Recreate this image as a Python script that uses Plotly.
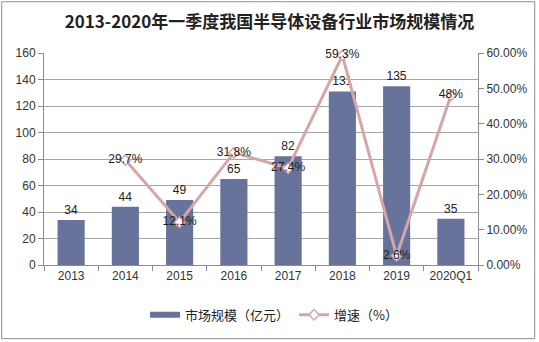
import plotly.graph_objects as go

categories = ["2013", "2014", "2015", "2016", "2017", "2018", "2019", "2020Q1"]
market_size = [34, 44, 49, 65, 82, 131, 135, 35]
growth = [None, 0.297, 0.121, 0.318, 0.274, 0.593, 0.026, 0.48]
growth_labels = ["", "29.7%", "12.1%", "31.8%", "27.4%", "59.3%", "2.6%", "48%"]

W, H = 539, 342
ml, mr, mt, mb = 44, 59, 53, 76
pw, ph = W - ml - mr, H - mt - mb

BAR_COLOR = "#67739A"
LINE_COLOR = "#D4A7A6"

fig = go.Figure()
fig.add_trace(go.Bar(
    x=categories, y=market_size, name="市场规模（亿元）",
    marker=dict(color=BAR_COLOR, line=dict(width=0)),
    width=0.5,
    text=[str(v) for v in market_size], textposition="outside",
    textfont=dict(family="Arial", size=12, color="#222222"),
    cliponaxis=False, showlegend=False,
))
# legend-only entry to show a wide bar swatch like the reference
fig.add_trace(go.Scatter(
    x=[None], y=[None], name="市场规模（亿元）", mode="lines",
    line=dict(color=BAR_COLOR, width=6), showlegend=True,
))
fig.add_trace(go.Scatter(
    x=categories, y=growth, name="增速（%）", yaxis="y2",
    mode="lines+markers+text",
    line=dict(color=LINE_COLOR, width=3),
    marker=dict(symbol="diamond", size=8, color="white", line=dict(color=LINE_COLOR, width=1.5)),
    text=growth_labels, textposition="middle center",
    textfont=dict(family="Arial", size=12, color="#222222"),
    cliponaxis=False,
))

frame_x0 = (1.5 - ml) / pw
frame_x1 = (W - 2 - ml) / pw
frame_y0 = -(H - 2 - (mt + ph)) / ph
frame_y1 = 1 + (mt - 1.5) / ph

fig.update_layout(
    width=W, height=H,
    margin=dict(l=ml, r=mr, t=mt, b=mb, pad=0),
    paper_bgcolor="white", plot_bgcolor="white",
    title=dict(text="<b>2013-2020年一季度我国半导体设备行业市场规模情况</b>",
               x=0.5, xanchor="center", y=1 - 22 / H, yanchor="middle",
               font=dict(family="Noto Sans CJK SC", size=17, color="#222222")),
    font=dict(family="Arial", size=12, color="#333333"),
    showlegend=True,
    legend=dict(orientation="h", x=0.53, xanchor="center", y=-0.235, yanchor="middle",
                font=dict(family="Noto Sans CJK SC", size=13, color="#222222"),
                tracegroupgap=0),
    xaxis=dict(
        showline=True, linecolor="#8C8C8C", linewidth=1,
        ticks="outside", ticklen=5, tickcolor="#8C8C8C", tickson="boundaries",
        tickfont=dict(family="Arial", size=12, color="#333333"),
        showgrid=False,
    ),
    yaxis=dict(
        range=[0, 160], dtick=20, showline=True, linecolor="#8C8C8C", linewidth=1,
        ticks="outside", ticklen=5, tickcolor="#8C8C8C",
        showgrid=True, gridcolor="#A6A6A6", gridwidth=1,
        zeroline=False,
        tickfont=dict(family="Arial", size=12, color="#333333"),
    ),
    yaxis2=dict(
        range=[0, 0.6], dtick=0.1, tickformat=".2%", overlaying="y", side="right",
        showline=True, linecolor="#8C8C8C", linewidth=1,
        ticks="outside", ticklen=5, tickcolor="#8C8C8C",
        showgrid=False, zeroline=False,
        tickfont=dict(family="Arial", size=12, color="#333333"),
    ),
    shapes=[dict(type="rect", xref="paper", yref="paper",
                 x0=frame_x0, x1=frame_x1, y0=frame_y0, y1=frame_y1,
                 line=dict(color="#8C8C8C", width=1), layer="below")],
)

fig.write_html("out.html")
